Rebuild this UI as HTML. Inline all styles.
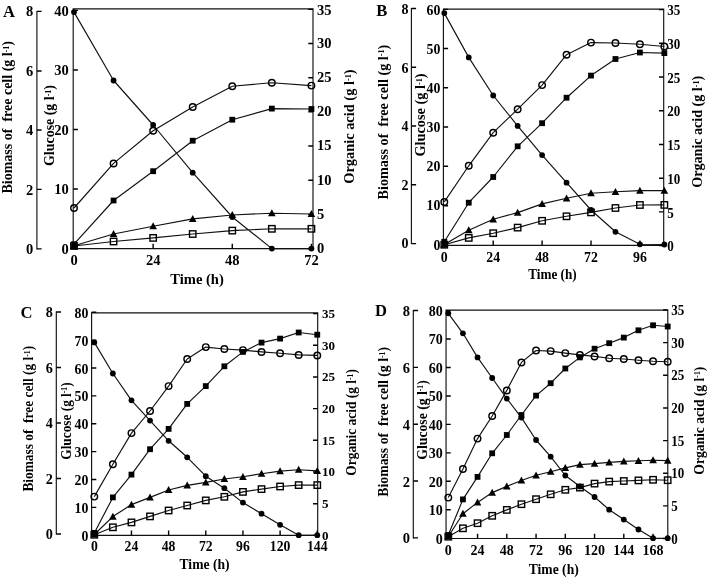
<!DOCTYPE html>
<html><head><meta charset="utf-8"><title>Figure</title>
<style>
html,body{margin:0;padding:0;background:#fff}
svg{display:block}
text{font-family:"Liberation Serif",serif;font-weight:bold;fill:#000}
</style></head><body>
<svg width="707" height="577" viewBox="0 0 707 577">
<rect width="707" height="577" fill="#fff"/>
<g id="panelA"><path d="M73.2 248.55V8.8H313V248.55Z" fill="none" stroke="#111" stroke-width="1.15"/>
<path d="M36.9 10.9V249.4" fill="none" stroke="#111" stroke-width="1.15"/>
<path d="M36.9 11.4h4.7M36.9 71h4.7M36.9 130h4.7M36.9 189.4h4.7M36.9 248.9h4.7M73.2 10.4h4.7M73.2 70h4.7M73.2 129.5h4.7M73.2 189h4.7M73.2 248.55h4.7M313 9.36h-4.7M313 43.53h-4.7M313 77.7h-4.7M313 111.87h-4.7M313 146.04h-4.7M313 180.21h-4.7M313 214.38h-4.7M313 248.55h-4.7M74 248.55v-4.7M153.14 248.55v-4.7M232.28 248.55v-4.7M311.42 248.55v-4.7" fill="none" stroke="#000" stroke-width="1.4"/>
<g><text x="33.34" y="16" font-size="14.5" text-anchor="end">8</text><text x="33.34" y="75.8" font-size="14.5" text-anchor="end">6</text><text x="33.34" y="135" font-size="14.5" text-anchor="end">4</text><text x="33.34" y="194.6" font-size="14.5" text-anchor="end">2</text><text x="33.34" y="254.29" font-size="14.5" text-anchor="end">0</text><text x="68.73" y="15.89" font-size="14.5" text-anchor="end">40</text><text x="68.73" y="75.47" font-size="14.5" text-anchor="end">30</text><text x="68.73" y="134.94" font-size="14.5" text-anchor="end">20</text><text x="68.73" y="194.42" font-size="14.5" text-anchor="end">10</text><text x="68.73" y="253.94" font-size="14.5" text-anchor="end">0</text><text x="317.06" y="15.05" font-size="14.5">35</text><text x="317.06" y="47.82" font-size="14.5">30</text><text x="317.06" y="81.99" font-size="14.5">25</text><text x="317.06" y="116.16" font-size="14.5">20</text><text x="317.06" y="150.33" font-size="14.5">15</text><text x="317.06" y="184.5" font-size="14.5">10</text><text x="317.06" y="218.67" font-size="14.5">5</text><text x="317.06" y="252.84" font-size="14.5">0</text><text x="74" y="265.11" font-size="14.5" text-anchor="middle">0</text><text x="153.14" y="265.11" font-size="14.5" text-anchor="middle">24</text><text x="232.28" y="265.11" font-size="14.5" text-anchor="middle">48</text><text x="311.42" y="265.11" font-size="14.5" text-anchor="middle">72</text></g>
<text transform="translate(170.31 283.6) scale(1.0408 1)" font-size="14">Time (h)</text>
<text transform="translate(12.2 193.58) rotate(-90) scale(0.9871 1)" font-size="14.2" style="white-space:pre">Biomass of  free cell (g l<tspan dy="-3.27" font-size="8.09">-1</tspan><tspan dy="3.27">)</tspan></text>
<text transform="translate(54 166) rotate(-90) scale(0.9830 1)" font-size="14.2" style="white-space:pre">Glucose (g l<tspan dy="-3.27" font-size="8.09">-1</tspan><tspan dy="3.27">)</tspan></text>
<text transform="translate(354 183.82) rotate(-90) scale(1.0146 1)" font-size="14.2" style="white-space:pre">Organic acid (g l<tspan dy="-3.27" font-size="8.09">-1</tspan><tspan dy="3.27">)</tspan></text>
<text x="2.9" y="16.5" font-size="16.6">A</text>
<path d="M74 12.1L113.57 80.5L153.14 125L192.71 172.7L232.28 217L271.85 248.6L311.42 248.6M74 208L113.57 163.4L153.14 130.7L192.71 107L232.28 86.2L271.85 82.7L311.42 85.6M74 244.2L113.57 200.5L153.14 171.2L192.71 140.7L232.28 119.7L271.85 108.6L311.42 109M74 245.8L113.57 234L153.14 226.2L192.71 218.9L232.28 215L271.85 213.2L311.42 214M74 245.95L113.57 241.5L153.14 237.9L192.71 234L232.28 230.6L271.85 228.8L311.42 228.8" fill="none" stroke="#111" stroke-width="1.15" stroke-linejoin="round"/>
<rect x="70.8" y="242.75" width="6.4" height="6.4" fill="none" stroke="#000" stroke-width="1.4"/><rect x="110.37" y="238.3" width="6.4" height="6.4" fill="none" stroke="#000" stroke-width="1.4"/><rect x="149.94" y="234.7" width="6.4" height="6.4" fill="none" stroke="#000" stroke-width="1.4"/><rect x="189.51" y="230.8" width="6.4" height="6.4" fill="none" stroke="#000" stroke-width="1.4"/><rect x="229.08" y="227.4" width="6.4" height="6.4" fill="none" stroke="#000" stroke-width="1.4"/><rect x="268.65" y="225.6" width="6.4" height="6.4" fill="none" stroke="#000" stroke-width="1.4"/><rect x="308.22" y="225.6" width="6.4" height="6.4" fill="none" stroke="#000" stroke-width="1.4"/><path d="M74 241.9l3.8 7h-7.6z" fill="#000"/><path d="M113.57 230.1l3.8 7h-7.6z" fill="#000"/><path d="M153.14 222.3l3.8 7h-7.6z" fill="#000"/><path d="M192.71 215l3.8 7h-7.6z" fill="#000"/><path d="M232.28 211.1l3.8 7h-7.6z" fill="#000"/><path d="M271.85 209.3l3.8 7h-7.6z" fill="#000"/><path d="M311.42 210.1l3.8 7h-7.6z" fill="#000"/><rect x="71.1" y="241.3" width="5.8" height="5.8" fill="#000"/><rect x="110.67" y="197.6" width="5.8" height="5.8" fill="#000"/><rect x="150.24" y="168.3" width="5.8" height="5.8" fill="#000"/><rect x="189.81" y="137.8" width="5.8" height="5.8" fill="#000"/><rect x="229.38" y="116.8" width="5.8" height="5.8" fill="#000"/><rect x="268.95" y="105.7" width="5.8" height="5.8" fill="#000"/><rect x="308.52" y="106.1" width="5.8" height="5.8" fill="#000"/><circle cx="74" cy="208" r="3.25" fill="none" stroke="#000" stroke-width="1.45"/><circle cx="113.57" cy="163.4" r="3.25" fill="none" stroke="#000" stroke-width="1.45"/><circle cx="153.14" cy="130.7" r="3.25" fill="none" stroke="#000" stroke-width="1.45"/><circle cx="192.71" cy="107" r="3.25" fill="none" stroke="#000" stroke-width="1.45"/><circle cx="232.28" cy="86.2" r="3.25" fill="none" stroke="#000" stroke-width="1.45"/><circle cx="271.85" cy="82.7" r="3.25" fill="none" stroke="#000" stroke-width="1.45"/><circle cx="311.42" cy="85.6" r="3.25" fill="none" stroke="#000" stroke-width="1.45"/><circle cx="74" cy="12.1" r="2.9" fill="#000"/><circle cx="113.57" cy="80.5" r="2.9" fill="#000"/><circle cx="153.14" cy="125" r="2.9" fill="#000"/><circle cx="192.71" cy="172.7" r="2.9" fill="#000"/><circle cx="232.28" cy="217" r="2.9" fill="#000"/><circle cx="271.85" cy="248.6" r="2.9" fill="#000"/><circle cx="311.42" cy="248.6" r="2.9" fill="#000"/></g>
<g id="panelB"><path d="M443.4 245.3V9.1H663.7V245.3Z" fill="none" stroke="#111" stroke-width="1.15"/>
<path d="M411.4 8V244.1" fill="none" stroke="#111" stroke-width="1.15"/>
<path d="M411.4 8.5h4.7M411.4 67.2h4.7M411.4 126h4.7M411.4 184.8h4.7M411.4 243.6h4.7M443.4 9.4h4.7M443.4 48.5h4.7M443.4 87.8h4.7M443.4 127h4.7M443.4 166.3h4.7M443.4 205.7h4.7M443.4 245.6h4.7M663.7 9.6h-4.7M663.7 43.32h-4.7M663.7 77.04h-4.7M663.7 110.76h-4.7M663.7 144.48h-4.7M663.7 178.2h-4.7M663.7 211.92h-4.7M663.7 245.64h-4.7M444.3 245.3v-4.7M493.2 245.3v-4.7M542.1 245.3v-4.7M591 245.3v-4.7M639.9 245.3v-4.7" fill="none" stroke="#000" stroke-width="1.4"/>
<g><text x="408.42" y="14.11" font-size="14" text-anchor="end">8</text><text x="408.42" y="72.51" font-size="14" text-anchor="end">6</text><text x="408.42" y="131.02" font-size="14" text-anchor="end">4</text><text x="408.42" y="189.52" font-size="14" text-anchor="end">2</text><text x="408.42" y="248.02" font-size="14" text-anchor="end">0</text><text x="440.31" y="14.94" font-size="13.8" text-anchor="end">60</text><text x="440.31" y="53.84" font-size="13.8" text-anchor="end">50</text><text x="440.31" y="92.94" font-size="13.8" text-anchor="end">40</text><text x="440.31" y="131.94" font-size="13.8" text-anchor="end">30</text><text x="440.31" y="171.04" font-size="13.8" text-anchor="end">20</text><text x="440.31" y="210.24" font-size="13.8" text-anchor="end">10</text><text x="440.31" y="249.94" font-size="13.8" text-anchor="end">0</text><text transform="translate(667.27 15.32) scale(0.91 1)" font-size="14.3">35</text><text transform="translate(667.27 49.04) scale(0.91 1)" font-size="14.3">30</text><text transform="translate(667.27 82.76) scale(0.91 1)" font-size="14.3">25</text><text transform="translate(667.27 116.48) scale(0.91 1)" font-size="14.3">20</text><text transform="translate(667.27 150.2) scale(0.91 1)" font-size="14.3">15</text><text transform="translate(667.27 183.92) scale(0.91 1)" font-size="14.3">10</text><text transform="translate(667.27 217.64) scale(0.91 1)" font-size="14.3">5</text><text transform="translate(667.27 251.36) scale(0.91 1)" font-size="14.3">0</text><text x="444.3" y="261.82" font-size="13.8" text-anchor="middle">0</text><text x="493.2" y="261.82" font-size="13.8" text-anchor="middle">24</text><text x="542.1" y="261.82" font-size="13.8" text-anchor="middle">48</text><text x="591" y="261.82" font-size="13.8" text-anchor="middle">72</text><text x="639.9" y="261.82" font-size="13.8" text-anchor="middle">96</text></g>
<text transform="translate(528.24 278.9) scale(0.9418 1)" font-size="14">Time (h)</text>
<text transform="translate(387.5 199.48) rotate(-90) scale(1.0007 1)" font-size="14.2" style="white-space:pre">Biomass of  free cell (g l<tspan dy="-3.27" font-size="8.09">-1</tspan><tspan dy="3.27">)</tspan></text>
<text transform="translate(424.9 156.62) rotate(-90) scale(1.0089 1)" font-size="14.2" style="white-space:pre">Glucose (g l<tspan dy="-3.27" font-size="8.09">-1</tspan><tspan dy="3.27">)</tspan></text>
<text transform="translate(702.1 187.7) rotate(-90) scale(0.9922 1)" font-size="14.2" style="white-space:pre">Organic acid (g l<tspan dy="-3.27" font-size="8.09">-1</tspan><tspan dy="3.27">)</tspan></text>
<text x="376.2" y="15.9" font-size="16.6">B</text>
<path d="M444.3 13.1L468.75 57.4L493.2 95.5L517.65 125.9L542.1 155.1L566.55 182.7L591 210L615.45 231.8L639.9 244.3L664.35 244.5M444.3 201.9L468.75 165.8L493.2 132.7L517.65 109.2L542.1 85.1L566.55 54.7L591 42.6L615.45 43L639.9 44.2L664.35 46.5M444.3 241.8L468.75 202.7L493.2 177L517.65 146.3L542.1 123.2L566.55 97.7L591 75.6L615.45 59L639.9 52.5L664.35 53.1M444.3 244.6L468.75 230.2L493.2 219.3L517.65 212.6L542.1 203.9L566.55 198.3L591 193.2L615.45 191.8L639.9 190.6L664.35 190.6M444.3 244.75L468.75 237.9L493.2 233.2L517.65 227.6L542.1 220.8L566.55 216.3L591 212.4L615.45 208L639.9 205L664.35 204.9" fill="none" stroke="#111" stroke-width="1.15" stroke-linejoin="round"/>
<rect x="441.1" y="241.55" width="6.4" height="6.4" fill="none" stroke="#000" stroke-width="1.4"/><rect x="465.55" y="234.7" width="6.4" height="6.4" fill="none" stroke="#000" stroke-width="1.4"/><rect x="490" y="230" width="6.4" height="6.4" fill="none" stroke="#000" stroke-width="1.4"/><rect x="514.45" y="224.4" width="6.4" height="6.4" fill="none" stroke="#000" stroke-width="1.4"/><rect x="538.9" y="217.6" width="6.4" height="6.4" fill="none" stroke="#000" stroke-width="1.4"/><rect x="563.35" y="213.1" width="6.4" height="6.4" fill="none" stroke="#000" stroke-width="1.4"/><rect x="587.8" y="209.2" width="6.4" height="6.4" fill="none" stroke="#000" stroke-width="1.4"/><rect x="612.25" y="204.8" width="6.4" height="6.4" fill="none" stroke="#000" stroke-width="1.4"/><rect x="636.7" y="201.8" width="6.4" height="6.4" fill="none" stroke="#000" stroke-width="1.4"/><rect x="661.15" y="201.7" width="6.4" height="6.4" fill="none" stroke="#000" stroke-width="1.4"/><path d="M444.3 240.7l3.8 7h-7.6z" fill="#000"/><path d="M468.75 226.3l3.8 7h-7.6z" fill="#000"/><path d="M493.2 215.4l3.8 7h-7.6z" fill="#000"/><path d="M517.65 208.7l3.8 7h-7.6z" fill="#000"/><path d="M542.1 200l3.8 7h-7.6z" fill="#000"/><path d="M566.55 194.4l3.8 7h-7.6z" fill="#000"/><path d="M591 189.3l3.8 7h-7.6z" fill="#000"/><path d="M615.45 187.9l3.8 7h-7.6z" fill="#000"/><path d="M639.9 186.7l3.8 7h-7.6z" fill="#000"/><path d="M664.35 186.7l3.8 7h-7.6z" fill="#000"/><rect x="441.4" y="238.9" width="5.8" height="5.8" fill="#000"/><rect x="465.85" y="199.8" width="5.8" height="5.8" fill="#000"/><rect x="490.3" y="174.1" width="5.8" height="5.8" fill="#000"/><rect x="514.75" y="143.4" width="5.8" height="5.8" fill="#000"/><rect x="539.2" y="120.3" width="5.8" height="5.8" fill="#000"/><rect x="563.65" y="94.8" width="5.8" height="5.8" fill="#000"/><rect x="588.1" y="72.7" width="5.8" height="5.8" fill="#000"/><rect x="612.55" y="56.1" width="5.8" height="5.8" fill="#000"/><rect x="637" y="49.6" width="5.8" height="5.8" fill="#000"/><rect x="661.45" y="50.2" width="5.8" height="5.8" fill="#000"/><circle cx="444.3" cy="201.9" r="3.25" fill="none" stroke="#000" stroke-width="1.45"/><circle cx="468.75" cy="165.8" r="3.25" fill="none" stroke="#000" stroke-width="1.45"/><circle cx="493.2" cy="132.7" r="3.25" fill="none" stroke="#000" stroke-width="1.45"/><circle cx="517.65" cy="109.2" r="3.25" fill="none" stroke="#000" stroke-width="1.45"/><circle cx="542.1" cy="85.1" r="3.25" fill="none" stroke="#000" stroke-width="1.45"/><circle cx="566.55" cy="54.7" r="3.25" fill="none" stroke="#000" stroke-width="1.45"/><circle cx="591" cy="42.6" r="3.25" fill="none" stroke="#000" stroke-width="1.45"/><circle cx="615.45" cy="43" r="3.25" fill="none" stroke="#000" stroke-width="1.45"/><circle cx="639.9" cy="44.2" r="3.25" fill="none" stroke="#000" stroke-width="1.45"/><circle cx="664.35" cy="46.5" r="3.25" fill="none" stroke="#000" stroke-width="1.45"/><circle cx="444.3" cy="13.1" r="2.9" fill="#000"/><circle cx="468.75" cy="57.4" r="2.9" fill="#000"/><circle cx="493.2" cy="95.5" r="2.9" fill="#000"/><circle cx="517.65" cy="125.9" r="2.9" fill="#000"/><circle cx="542.1" cy="155.1" r="2.9" fill="#000"/><circle cx="566.55" cy="182.7" r="2.9" fill="#000"/><circle cx="591" cy="210" r="2.9" fill="#000"/><circle cx="615.45" cy="231.8" r="2.9" fill="#000"/><circle cx="639.9" cy="244.3" r="2.9" fill="#000"/><circle cx="664.35" cy="244.5" r="2.9" fill="#000"/></g>
<g id="panelC"><path d="M91.6 535.3V312.8H317.7V535.3Z" fill="none" stroke="#111" stroke-width="1.15"/>
<path d="M56.3 311.5V534.5" fill="none" stroke="#111" stroke-width="1.15"/>
<path d="M56.3 312h4.7M56.3 367.5h4.7M56.3 423h4.7M56.3 478.5h4.7M56.3 534h4.7M91.6 312.3h4.7M91.6 340.17h4.7M91.6 368.04h4.7M91.6 395.91h4.7M91.6 423.78h4.7M91.6 451.65h4.7M91.6 479.52h4.7M91.6 507.39h4.7M91.6 535.26h4.7M317.7 313.6h-4.7M317.7 345.28h-4.7M317.7 376.96h-4.7M317.7 408.64h-4.7M317.7 440.32h-4.7M317.7 472h-4.7M317.7 503.68h-4.7M317.7 535.36h-4.7M94.3 535.3v-4.7M131.46 535.3v-4.7M168.62 535.3v-4.7M205.78 535.3v-4.7M242.94 535.3v-4.7M280.1 535.3v-4.7M317.26 535.3v-4.7" fill="none" stroke="#000" stroke-width="1.4"/>
<g><text x="52.73" y="317.18" font-size="14.2" text-anchor="end">8</text><text x="52.73" y="372.68" font-size="14.2" text-anchor="end">6</text><text x="52.73" y="428.18" font-size="14.2" text-anchor="end">4</text><text x="52.73" y="483.68" font-size="14.2" text-anchor="end">2</text><text x="52.73" y="539.18" font-size="14.2" text-anchor="end">0</text><text x="88.41" y="317.84" font-size="13.8" text-anchor="end">80</text><text x="88.41" y="345.71" font-size="13.8" text-anchor="end">70</text><text x="88.41" y="373.58" font-size="13.8" text-anchor="end">60</text><text x="88.41" y="401.45" font-size="13.8" text-anchor="end">50</text><text x="88.41" y="429.32" font-size="13.8" text-anchor="end">40</text><text x="88.41" y="457.19" font-size="13.8" text-anchor="end">30</text><text x="88.41" y="485.06" font-size="13.8" text-anchor="end">20</text><text x="88.41" y="512.93" font-size="13.8" text-anchor="end">10</text><text x="88.41" y="540.8" font-size="13.8" text-anchor="end">0</text><text x="321.91" y="317.95" font-size="13">35</text><text x="321.91" y="349.63" font-size="13">30</text><text x="321.91" y="381.31" font-size="13">25</text><text x="321.91" y="412.99" font-size="13">20</text><text x="321.91" y="444.67" font-size="13">15</text><text x="321.91" y="476.35" font-size="13">10</text><text x="321.91" y="508.03" font-size="13">5</text><text x="321.91" y="539.71" font-size="13">0</text><text x="94.3" y="551.04" font-size="13.7" text-anchor="middle">0</text><text x="131.46" y="551.04" font-size="13.7" text-anchor="middle">24</text><text x="168.62" y="551.04" font-size="13.7" text-anchor="middle">48</text><text x="205.78" y="551.04" font-size="13.7" text-anchor="middle">72</text><text x="242.94" y="551.04" font-size="13.7" text-anchor="middle">96</text><text x="280.1" y="551.04" font-size="13.7" text-anchor="middle">120</text><text x="317.26" y="551.04" font-size="13.7" text-anchor="middle">144</text></g>
<text transform="translate(179.53 568.9) scale(0.9735 1)" font-size="14">Time (h)</text>
<text transform="translate(33.2 491.57) rotate(-90) scale(0.9422 1)" font-size="14.2" style="white-space:pre">Biomass of  free cell (g l<tspan dy="-3.27" font-size="8.09">-1</tspan><tspan dy="3.27">)</tspan></text>
<text transform="translate(70.6 459.67) rotate(-90) scale(0.9373 1)" font-size="14.2" style="white-space:pre">Glucose (g l<tspan dy="-3.27" font-size="8.09">-1</tspan><tspan dy="3.27">)</tspan></text>
<text transform="translate(356.3 475.67) rotate(-90) scale(0.9455 1)" font-size="14.2" style="white-space:pre">Organic acid (g l<tspan dy="-3.27" font-size="8.09">-1</tspan><tspan dy="3.27">)</tspan></text>
<text x="20.5" y="318" font-size="16.6">C</text>
<path d="M94.3 342.4L112.88 373.5L131.46 400.3L150.04 420.6L168.62 440.8L187.2 457.3L205.78 476.2L224.36 488.2L242.94 502.6L261.52 513.7L280.1 524.8L298.68 535.2L317.26 535.2M94.3 496.6L112.88 464.2L131.46 433.1L150.04 411L168.62 386.1L187.2 359L205.78 347.1L224.36 349L242.94 350.1L261.52 351.9L280.1 353.3L298.68 354.9L317.26 355.4M94.3 532.9L112.88 497.4L131.46 474.6L150.04 449.2L168.62 428.9L187.2 403.9L205.78 386.1L224.36 366.3L242.94 351.9L261.52 342.6L280.1 338.6L298.68 332.5L317.26 334.7M94.3 534.5L112.88 516.6L131.46 504.6L150.04 497.4L168.62 490L187.2 485.4L205.78 482.4L224.36 479L242.94 476.8L261.52 473.7L280.1 471.1L298.68 469.7L317.26 470.9M94.3 534.75L112.88 527.3L131.46 522.4L150.04 516.4L168.62 510.5L187.2 505.5L205.78 500.4L224.36 496.8L242.94 491.9L261.52 489.1L280.1 486.5L298.68 485.1L317.26 485.1" fill="none" stroke="#111" stroke-width="1.15" stroke-linejoin="round"/>
<rect x="91.1" y="531.55" width="6.4" height="6.4" fill="none" stroke="#000" stroke-width="1.4"/><rect x="109.68" y="524.1" width="6.4" height="6.4" fill="none" stroke="#000" stroke-width="1.4"/><rect x="128.26" y="519.2" width="6.4" height="6.4" fill="none" stroke="#000" stroke-width="1.4"/><rect x="146.84" y="513.2" width="6.4" height="6.4" fill="none" stroke="#000" stroke-width="1.4"/><rect x="165.42" y="507.3" width="6.4" height="6.4" fill="none" stroke="#000" stroke-width="1.4"/><rect x="184" y="502.3" width="6.4" height="6.4" fill="none" stroke="#000" stroke-width="1.4"/><rect x="202.58" y="497.2" width="6.4" height="6.4" fill="none" stroke="#000" stroke-width="1.4"/><rect x="221.16" y="493.6" width="6.4" height="6.4" fill="none" stroke="#000" stroke-width="1.4"/><rect x="239.74" y="488.7" width="6.4" height="6.4" fill="none" stroke="#000" stroke-width="1.4"/><rect x="258.32" y="485.9" width="6.4" height="6.4" fill="none" stroke="#000" stroke-width="1.4"/><rect x="276.9" y="483.3" width="6.4" height="6.4" fill="none" stroke="#000" stroke-width="1.4"/><rect x="295.48" y="481.9" width="6.4" height="6.4" fill="none" stroke="#000" stroke-width="1.4"/><rect x="314.06" y="481.9" width="6.4" height="6.4" fill="none" stroke="#000" stroke-width="1.4"/><path d="M94.3 530.6l3.8 7h-7.6z" fill="#000"/><path d="M112.88 512.7l3.8 7h-7.6z" fill="#000"/><path d="M131.46 500.7l3.8 7h-7.6z" fill="#000"/><path d="M150.04 493.5l3.8 7h-7.6z" fill="#000"/><path d="M168.62 486.1l3.8 7h-7.6z" fill="#000"/><path d="M187.2 481.5l3.8 7h-7.6z" fill="#000"/><path d="M205.78 478.5l3.8 7h-7.6z" fill="#000"/><path d="M224.36 475.1l3.8 7h-7.6z" fill="#000"/><path d="M242.94 472.9l3.8 7h-7.6z" fill="#000"/><path d="M261.52 469.8l3.8 7h-7.6z" fill="#000"/><path d="M280.1 467.2l3.8 7h-7.6z" fill="#000"/><path d="M298.68 465.8l3.8 7h-7.6z" fill="#000"/><path d="M317.26 467l3.8 7h-7.6z" fill="#000"/><rect x="91.4" y="530" width="5.8" height="5.8" fill="#000"/><rect x="109.98" y="494.5" width="5.8" height="5.8" fill="#000"/><rect x="128.56" y="471.7" width="5.8" height="5.8" fill="#000"/><rect x="147.14" y="446.3" width="5.8" height="5.8" fill="#000"/><rect x="165.72" y="426" width="5.8" height="5.8" fill="#000"/><rect x="184.3" y="401" width="5.8" height="5.8" fill="#000"/><rect x="202.88" y="383.2" width="5.8" height="5.8" fill="#000"/><rect x="221.46" y="363.4" width="5.8" height="5.8" fill="#000"/><rect x="240.04" y="349" width="5.8" height="5.8" fill="#000"/><rect x="258.62" y="339.7" width="5.8" height="5.8" fill="#000"/><rect x="277.2" y="335.7" width="5.8" height="5.8" fill="#000"/><rect x="295.78" y="329.6" width="5.8" height="5.8" fill="#000"/><rect x="314.36" y="331.8" width="5.8" height="5.8" fill="#000"/><circle cx="94.3" cy="496.6" r="3.25" fill="none" stroke="#000" stroke-width="1.45"/><circle cx="112.88" cy="464.2" r="3.25" fill="none" stroke="#000" stroke-width="1.45"/><circle cx="131.46" cy="433.1" r="3.25" fill="none" stroke="#000" stroke-width="1.45"/><circle cx="150.04" cy="411" r="3.25" fill="none" stroke="#000" stroke-width="1.45"/><circle cx="168.62" cy="386.1" r="3.25" fill="none" stroke="#000" stroke-width="1.45"/><circle cx="187.2" cy="359" r="3.25" fill="none" stroke="#000" stroke-width="1.45"/><circle cx="205.78" cy="347.1" r="3.25" fill="none" stroke="#000" stroke-width="1.45"/><circle cx="224.36" cy="349" r="3.25" fill="none" stroke="#000" stroke-width="1.45"/><circle cx="242.94" cy="350.1" r="3.25" fill="none" stroke="#000" stroke-width="1.45"/><circle cx="261.52" cy="351.9" r="3.25" fill="none" stroke="#000" stroke-width="1.45"/><circle cx="280.1" cy="353.3" r="3.25" fill="none" stroke="#000" stroke-width="1.45"/><circle cx="298.68" cy="354.9" r="3.25" fill="none" stroke="#000" stroke-width="1.45"/><circle cx="317.26" cy="355.4" r="3.25" fill="none" stroke="#000" stroke-width="1.45"/><circle cx="94.3" cy="342.4" r="2.9" fill="#000"/><circle cx="112.88" cy="373.5" r="2.9" fill="#000"/><circle cx="131.46" cy="400.3" r="2.9" fill="#000"/><circle cx="150.04" cy="420.6" r="2.9" fill="#000"/><circle cx="168.62" cy="440.8" r="2.9" fill="#000"/><circle cx="187.2" cy="457.3" r="2.9" fill="#000"/><circle cx="205.78" cy="476.2" r="2.9" fill="#000"/><circle cx="224.36" cy="488.2" r="2.9" fill="#000"/><circle cx="242.94" cy="502.6" r="2.9" fill="#000"/><circle cx="261.52" cy="513.7" r="2.9" fill="#000"/><circle cx="280.1" cy="524.8" r="2.9" fill="#000"/><circle cx="298.68" cy="535.2" r="2.9" fill="#000"/><circle cx="317.26" cy="535.2" r="2.9" fill="#000"/></g>
<g id="panelD"><path d="M446.05 538.5V310.1H667.8V538.5Z" fill="none" stroke="#111" stroke-width="1.15"/>
<path d="M413.3 310V538.4" fill="none" stroke="#111" stroke-width="1.15"/>
<path d="M413.3 310.5h4.7M413.3 367.35h4.7M413.3 424.2h4.7M413.3 481.05h4.7M413.3 537.9h4.7M446.05 310.6h4.7M446.05 339.05h4.7M446.05 367.5h4.7M446.05 395.95h4.7M446.05 424.4h4.7M446.05 452.85h4.7M446.05 481.3h4.7M446.05 509.75h4.7M446.05 538.2h4.7M667.8 310h-4.7M667.8 342.65h-4.7M667.8 375.3h-4.7M667.8 407.95h-4.7M667.8 440.6h-4.7M667.8 473.25h-4.7M667.8 505.9h-4.7M667.8 538.55h-4.7M448.3 538.5v-4.7M477.55 538.5v-4.7M506.8 538.5v-4.7M536.06 538.5v-4.7M565.31 538.5v-4.7M594.56 538.5v-4.7M623.81 538.5v-4.7M653.06 538.5v-4.7" fill="none" stroke="#000" stroke-width="1.4"/>
<g><text x="409.94" y="316.09" font-size="14.5" text-anchor="end">8</text><text x="409.94" y="372.94" font-size="14.5" text-anchor="end">6</text><text x="409.94" y="429.79" font-size="14.5" text-anchor="end">4</text><text x="409.94" y="486.64" font-size="14.5" text-anchor="end">2</text><text x="409.94" y="543.49" font-size="14.5" text-anchor="end">0</text><text x="442.87" y="316.01" font-size="14" text-anchor="end">80</text><text x="442.87" y="344.46" font-size="14" text-anchor="end">70</text><text x="442.87" y="372.91" font-size="14" text-anchor="end">60</text><text x="442.87" y="401.36" font-size="14" text-anchor="end">50</text><text x="442.87" y="429.81" font-size="14" text-anchor="end">40</text><text x="442.87" y="458.26" font-size="14" text-anchor="end">30</text><text x="442.87" y="486.71" font-size="14" text-anchor="end">20</text><text x="442.87" y="515.16" font-size="14" text-anchor="end">10</text><text x="442.87" y="543.61" font-size="14" text-anchor="end">0</text><text transform="translate(671.18 315.11) scale(0.93 1)" font-size="14">35</text><text transform="translate(671.18 347.76) scale(0.93 1)" font-size="14">30</text><text transform="translate(671.18 380.41) scale(0.93 1)" font-size="14">25</text><text transform="translate(671.18 413.06) scale(0.93 1)" font-size="14">20</text><text transform="translate(671.18 445.71) scale(0.93 1)" font-size="14">15</text><text transform="translate(671.18 478.36) scale(0.93 1)" font-size="14">10</text><text transform="translate(671.18 511.01) scale(0.93 1)" font-size="14">5</text><text transform="translate(671.18 543.66) scale(0.93 1)" font-size="14">0</text><text x="448.3" y="554.99" font-size="14" text-anchor="middle">0</text><text x="477.55" y="554.99" font-size="14" text-anchor="middle">24</text><text x="506.8" y="554.99" font-size="14" text-anchor="middle">48</text><text x="536.06" y="554.99" font-size="14" text-anchor="middle">72</text><text x="565.31" y="554.99" font-size="14" text-anchor="middle">96</text><text x="594.56" y="554.99" font-size="14" text-anchor="middle">120</text><text x="623.81" y="554.99" font-size="14" text-anchor="middle">144</text><text x="653.06" y="554.99" font-size="14" text-anchor="middle">168</text></g>
<text transform="translate(528.73 574) scale(0.9735 1)" font-size="14">Time (h)</text>
<text transform="translate(387.8 496.67) rotate(-90) scale(0.9682 1)" font-size="14.2" style="white-space:pre">Biomass of  free cell (g l<tspan dy="-3.27" font-size="8.09">-1</tspan><tspan dy="3.27">)</tspan></text>
<text transform="translate(426.5 459.69) rotate(-90) scale(0.9657 1)" font-size="14.2" style="white-space:pre">Glucose (g l<tspan dy="-3.27" font-size="8.09">-1</tspan><tspan dy="3.27">)</tspan></text>
<text transform="translate(703.7 474.68) rotate(-90) scale(0.9581 1)" font-size="14.2" style="white-space:pre">Organic acid (g l<tspan dy="-3.27" font-size="8.09">-1</tspan><tspan dy="3.27">)</tspan></text>
<text x="375" y="316.1" font-size="16.6">D</text>
<path d="M448.3 313.3L462.93 333.3L477.55 357.4L492.18 378L506.8 398.6L521.43 417.6L536.06 440L550.68 456.7L565.31 475.5L579.93 486.5L594.56 497L609.19 509.7L623.81 519.6L638.44 529.5L653.06 538.2L667.69 538.2M448.3 497.6L462.93 468.9L477.55 438.6L492.18 416L506.8 390.4L521.43 362.4L536.06 350.5L550.68 351.1L565.31 353.1L579.93 354.9L594.56 356.4L609.19 358.2L623.81 359L638.44 360.2L653.06 361.2L667.69 361.8M448.3 535L462.93 499.4L477.55 476.9L492.18 453.3L506.8 435L521.43 415L536.06 395.6L550.68 383.2L565.31 368.5L579.93 357.4L594.56 348.7L609.19 343.2L623.81 337.6L638.44 330.3L653.06 325.3L667.69 326.5M448.3 536.5L462.93 513.7L477.55 502.4L492.18 492.6L506.8 486.4L521.43 480.5L536.06 475.3L550.68 471.7L565.31 467.9L579.93 464.6L594.56 463.6L609.19 462.4L623.81 461.4L638.44 460.8L653.06 460.2L667.69 460.6M448.3 536.7L462.93 528.3L477.55 523.2L492.18 515.8L506.8 509.9L521.43 504.2L536.06 499.2L550.68 494.3L565.31 489.8L579.93 487.6L594.56 483.6L609.19 481.6L623.81 481L638.44 480.4L653.06 479.8L667.69 480.2" fill="none" stroke="#111" stroke-width="1.15" stroke-linejoin="round"/>
<rect x="445.1" y="533.5" width="6.4" height="6.4" fill="none" stroke="#000" stroke-width="1.4"/><rect x="459.73" y="525.1" width="6.4" height="6.4" fill="none" stroke="#000" stroke-width="1.4"/><rect x="474.35" y="520" width="6.4" height="6.4" fill="none" stroke="#000" stroke-width="1.4"/><rect x="488.98" y="512.6" width="6.4" height="6.4" fill="none" stroke="#000" stroke-width="1.4"/><rect x="503.6" y="506.7" width="6.4" height="6.4" fill="none" stroke="#000" stroke-width="1.4"/><rect x="518.23" y="501" width="6.4" height="6.4" fill="none" stroke="#000" stroke-width="1.4"/><rect x="532.86" y="496" width="6.4" height="6.4" fill="none" stroke="#000" stroke-width="1.4"/><rect x="547.48" y="491.1" width="6.4" height="6.4" fill="none" stroke="#000" stroke-width="1.4"/><rect x="562.11" y="486.6" width="6.4" height="6.4" fill="none" stroke="#000" stroke-width="1.4"/><rect x="576.73" y="484.4" width="6.4" height="6.4" fill="none" stroke="#000" stroke-width="1.4"/><rect x="591.36" y="480.4" width="6.4" height="6.4" fill="none" stroke="#000" stroke-width="1.4"/><rect x="605.99" y="478.4" width="6.4" height="6.4" fill="none" stroke="#000" stroke-width="1.4"/><rect x="620.61" y="477.8" width="6.4" height="6.4" fill="none" stroke="#000" stroke-width="1.4"/><rect x="635.24" y="477.2" width="6.4" height="6.4" fill="none" stroke="#000" stroke-width="1.4"/><rect x="649.86" y="476.6" width="6.4" height="6.4" fill="none" stroke="#000" stroke-width="1.4"/><rect x="664.49" y="477" width="6.4" height="6.4" fill="none" stroke="#000" stroke-width="1.4"/><path d="M448.3 532.6l3.8 7h-7.6z" fill="#000"/><path d="M462.93 509.8l3.8 7h-7.6z" fill="#000"/><path d="M477.55 498.5l3.8 7h-7.6z" fill="#000"/><path d="M492.18 488.7l3.8 7h-7.6z" fill="#000"/><path d="M506.8 482.5l3.8 7h-7.6z" fill="#000"/><path d="M521.43 476.6l3.8 7h-7.6z" fill="#000"/><path d="M536.06 471.4l3.8 7h-7.6z" fill="#000"/><path d="M550.68 467.8l3.8 7h-7.6z" fill="#000"/><path d="M565.31 464l3.8 7h-7.6z" fill="#000"/><path d="M579.93 460.7l3.8 7h-7.6z" fill="#000"/><path d="M594.56 459.7l3.8 7h-7.6z" fill="#000"/><path d="M609.19 458.5l3.8 7h-7.6z" fill="#000"/><path d="M623.81 457.5l3.8 7h-7.6z" fill="#000"/><path d="M638.44 456.9l3.8 7h-7.6z" fill="#000"/><path d="M653.06 456.3l3.8 7h-7.6z" fill="#000"/><path d="M667.69 456.7l3.8 7h-7.6z" fill="#000"/><rect x="445.4" y="532.1" width="5.8" height="5.8" fill="#000"/><rect x="460.03" y="496.5" width="5.8" height="5.8" fill="#000"/><rect x="474.65" y="474" width="5.8" height="5.8" fill="#000"/><rect x="489.28" y="450.4" width="5.8" height="5.8" fill="#000"/><rect x="503.9" y="432.1" width="5.8" height="5.8" fill="#000"/><rect x="518.53" y="412.1" width="5.8" height="5.8" fill="#000"/><rect x="533.16" y="392.7" width="5.8" height="5.8" fill="#000"/><rect x="547.78" y="380.3" width="5.8" height="5.8" fill="#000"/><rect x="562.41" y="365.6" width="5.8" height="5.8" fill="#000"/><rect x="577.03" y="354.5" width="5.8" height="5.8" fill="#000"/><rect x="591.66" y="345.8" width="5.8" height="5.8" fill="#000"/><rect x="606.29" y="340.3" width="5.8" height="5.8" fill="#000"/><rect x="620.91" y="334.7" width="5.8" height="5.8" fill="#000"/><rect x="635.54" y="327.4" width="5.8" height="5.8" fill="#000"/><rect x="650.16" y="322.4" width="5.8" height="5.8" fill="#000"/><rect x="664.79" y="323.6" width="5.8" height="5.8" fill="#000"/><circle cx="448.3" cy="497.6" r="3.25" fill="none" stroke="#000" stroke-width="1.45"/><circle cx="462.93" cy="468.9" r="3.25" fill="none" stroke="#000" stroke-width="1.45"/><circle cx="477.55" cy="438.6" r="3.25" fill="none" stroke="#000" stroke-width="1.45"/><circle cx="492.18" cy="416" r="3.25" fill="none" stroke="#000" stroke-width="1.45"/><circle cx="506.8" cy="390.4" r="3.25" fill="none" stroke="#000" stroke-width="1.45"/><circle cx="521.43" cy="362.4" r="3.25" fill="none" stroke="#000" stroke-width="1.45"/><circle cx="536.06" cy="350.5" r="3.25" fill="none" stroke="#000" stroke-width="1.45"/><circle cx="550.68" cy="351.1" r="3.25" fill="none" stroke="#000" stroke-width="1.45"/><circle cx="565.31" cy="353.1" r="3.25" fill="none" stroke="#000" stroke-width="1.45"/><circle cx="579.93" cy="354.9" r="3.25" fill="none" stroke="#000" stroke-width="1.45"/><circle cx="594.56" cy="356.4" r="3.25" fill="none" stroke="#000" stroke-width="1.45"/><circle cx="609.19" cy="358.2" r="3.25" fill="none" stroke="#000" stroke-width="1.45"/><circle cx="623.81" cy="359" r="3.25" fill="none" stroke="#000" stroke-width="1.45"/><circle cx="638.44" cy="360.2" r="3.25" fill="none" stroke="#000" stroke-width="1.45"/><circle cx="653.06" cy="361.2" r="3.25" fill="none" stroke="#000" stroke-width="1.45"/><circle cx="667.69" cy="361.8" r="3.25" fill="none" stroke="#000" stroke-width="1.45"/><circle cx="448.3" cy="313.3" r="2.9" fill="#000"/><circle cx="462.93" cy="333.3" r="2.9" fill="#000"/><circle cx="477.55" cy="357.4" r="2.9" fill="#000"/><circle cx="492.18" cy="378" r="2.9" fill="#000"/><circle cx="506.8" cy="398.6" r="2.9" fill="#000"/><circle cx="521.43" cy="417.6" r="2.9" fill="#000"/><circle cx="536.06" cy="440" r="2.9" fill="#000"/><circle cx="550.68" cy="456.7" r="2.9" fill="#000"/><circle cx="565.31" cy="475.5" r="2.9" fill="#000"/><circle cx="579.93" cy="486.5" r="2.9" fill="#000"/><circle cx="594.56" cy="497" r="2.9" fill="#000"/><circle cx="609.19" cy="509.7" r="2.9" fill="#000"/><circle cx="623.81" cy="519.6" r="2.9" fill="#000"/><circle cx="638.44" cy="529.5" r="2.9" fill="#000"/><circle cx="653.06" cy="538.2" r="2.9" fill="#000"/><circle cx="667.69" cy="538.2" r="2.9" fill="#000"/></g>
</svg>
</body></html>
